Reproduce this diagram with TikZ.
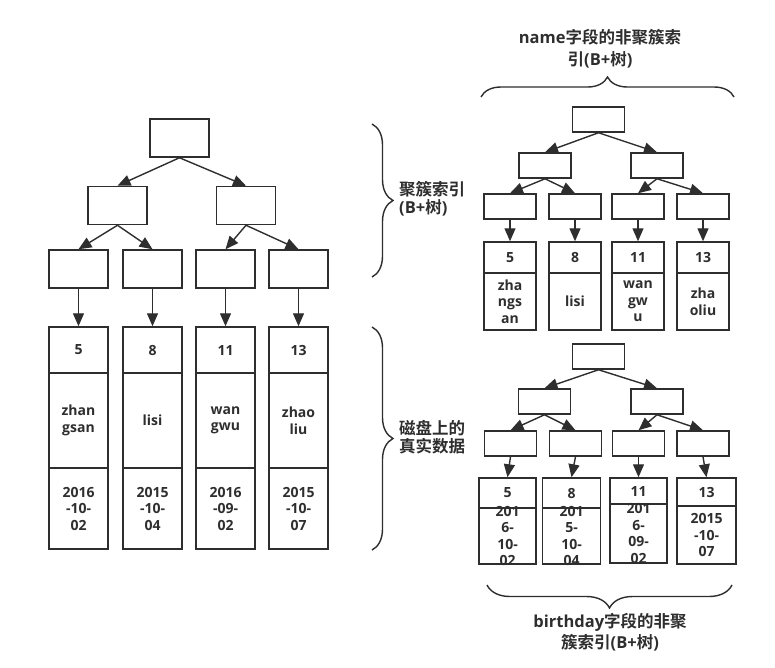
\documentclass[tikz,border=0pt]{standalone}
\usepackage{fontspec}
\setmainfont{Open Sans}[BoldFont={Open Sans Bold}]
\newfontfamily\cjk{Noto Sans CJK SC}[BoldFont={Noto Sans CJK SC Bold}]
\usetikzlibrary{arrows.meta,decorations.pathreplacing}
\definecolor{ink}{HTML}{2E2E2E}

\tikzset{
  box/.style={draw=ink, line width=1.5pt, inner sep=0pt, text=ink, align=center,
    font=\bfseries\fontsize{14}{16.5}\selectfont},
  big/.style={box, minimum width=59pt, minimum height=38pt},
  small/.style={box, minimum width=52pt, minimum height=25pt},
  val/.style={inner sep=0pt, text=ink, align=center, font=\bfseries\fontsize{14}{16.5}\selectfont},
  ptr/.style={draw=ink, line width=1.4pt, -{Triangle[length=13pt,width=11pt]}},
  brc/.style={draw=ink, line width=1.4pt, decorate},
  note/.style={inner sep=0pt, text=ink, font=\bfseries\fontsize{16.5}{22}\selectfont}
}

\begin{document}
\begin{tikzpicture}[x=1pt, y=-1pt]
\useasboundingbox (0,0) rectangle (775,667);

% clustered index (left)
\node[big] (c0) at (179.5,138){};
\node[big] (c1) at (117.5,205.5){};
\node[big] (c2) at (246,205.5){};
\node[big] (c3) at (78.5,269){};
\node[big] (c4) at (152.5,269){};
\node[big] (c5) at (225.5,269){};
\node[big] (c6) at (298.5,269){};
\draw[ptr] (c0.south) -- (c1.north);
\draw[ptr] (c0.south) -- (c2.north);
\draw[ptr] (c1.south) -- (c3.north);
\draw[ptr] (c1.south) -- (c4.north);
\draw[ptr] (c2.south) -- (c5.north);
\draw[ptr] (c2.south) -- (c6.north);

% rows on disk
\node[box, minimum width=59pt, minimum height=46pt] (k1) at (78.5,350){5};
\node[box, minimum width=59pt, minimum height=95pt] (n1) at (78.5,420.5){zhan\\gsan};
\node[box, minimum width=59pt, minimum height=81pt] (t1) at (78.5,508.5){2016\\-10-\\02};
\node[box, minimum width=59pt, minimum height=46pt] (k2) at (152.5,350){8};
\node[box, minimum width=59pt, minimum height=95pt] (n2) at (152.5,420.5){lisi};
\node[box, minimum width=59pt, minimum height=81pt] (t2) at (152.5,508.5){2015\\-10-\\04};
\node[box, minimum width=59pt, minimum height=46pt] (k3) at (225.5,350){11};
\node[box, minimum width=59pt, minimum height=95pt] (n3) at (225.5,420.5){wan\\gwu};
\node[box, minimum width=59pt, minimum height=81pt] (t3) at (225.5,508.5){2016\\-09-\\02};
\node[box, minimum width=59pt, minimum height=46pt] (k4) at (298.5,350){13};
\node[box, minimum width=59pt, minimum height=95pt] (n4) at (298.5,420.5){zhao\\liu};
\node[box, minimum width=59pt, minimum height=81pt] (t4) at (298.5,508.5){2015\\-10-\\07};
\draw[ptr] (c3.south) -- (k1.north);
\draw[ptr] (c4.south) -- (k2.north);
\draw[ptr] (c5.south) -- (k3.north);
\draw[ptr] (c6.south) -- (k4.north);

% name index (top right)
\node[small] (a0) at (598.5,119.5){};
\node[small] (a1) at (545,165.5){};
\node[small] (a2) at (657,165.5){};
\node[small] (a3) at (510,206.5){};
\node[small] (a4) at (575,206.5){};
\node[small] (a5) at (638,206.5){};
\node[small] (a6) at (703,206.5){};
\draw[ptr] (a0.south) -- (a1.north);
\draw[ptr] (a0.south) -- (a2.north);
\draw[ptr] (a1.south) -- (a3.north);
\draw[ptr] (a1.south) -- (a4.north);
\draw[ptr] (a2.south) -- (a5.north);
\draw[ptr] (a2.south) -- (a6.north);
\node[box, minimum width=52pt, minimum height=31pt] (ak1) at (510,257.5){5};
\node[box, minimum width=52pt, minimum height=57pt] (an1) at (510,301.5){zha\\ngs\\an};
\node[box, minimum width=52pt, minimum height=31pt] (ak2) at (575,257.5){8};
\node[box, minimum width=52pt, minimum height=57pt] (an2) at (575,301.5){lisi};
\node[box, minimum width=52pt, minimum height=31pt] (ak3) at (638,257.5){11};
\node[box, minimum width=52pt, minimum height=57pt] (an3) at (638,301.5){wan\\gw\\u};
\node[box, minimum width=52pt, minimum height=31pt] (ak4) at (703,257.5){13};
\node[box, minimum width=52pt, minimum height=57pt] (an4) at (703,301.5){zha\\oliu};
\draw[ptr] (a3.south) -- (ak1.north);
\draw[ptr] (a4.south) -- (ak2.north);
\draw[ptr] (a5.south) -- (ak3.north);
\draw[ptr] (a6.south) -- (ak4.north);

% birthday index (bottom right)
\node[small] (b0) at (598.5,356.5){};
\node[small] (b1) at (544.5,401.5){};
\node[small] (b2) at (657,401.5){};
\node[small] (b3) at (510.5,443.5){};
\node[small] (b4) at (575.5,443.5){};
\node[small] (b5) at (638.5,443.5){};
\node[small] (b6) at (703,443.5){};
\draw[ptr] (b0.south) -- (b1.north);
\draw[ptr] (b0.south) -- (b2.north);
\draw[ptr] (b1.south) -- (b3.north);
\draw[ptr] (b1.south) -- (b4.north);
\draw[ptr] (b2.south) -- (b5.north);
\draw[ptr] (b2.south) -- (b6.north);
\node[box, minimum width=57pt, minimum height=30pt] (bk1) at (507.5,493){5};
\node[box, minimum width=57pt, minimum height=56pt] (bd1) at (507.5,536){};
\node[val] (bt1) at (bd1){201\\6-\\10-\\02};
\node[box, minimum width=58pt, minimum height=30pt] (bk2) at (571.5,493){8};
\node[box, minimum width=58pt, minimum height=56pt] (bd2) at (571.5,536){};
\node[val] (bt2) at (bd2){201\\5-\\10-\\04};
\node[box, minimum width=57pt, minimum height=26pt] (bk3) at (638.5,491){11};
\node[box, minimum width=57pt, minimum height=59pt] (bd3) at (638.5,533.5){};
\node[val] (bt3) at (bd3){201\\6-\\09-\\02};
\node[box, minimum width=59pt, minimum height=28pt] (bk4) at (706.5,492){13};
\node[box, minimum width=59pt, minimum height=58pt] (bd4) at (706.5,535){2015\\-10-\\07};
\draw[ptr] (b3.south) -- (bk1.north);
\draw[ptr] (b4.south) -- (bk2.north);
\draw[ptr] (b5.south) -- (bk3.north);
\draw[ptr] (b6.south) -- (bk4.north);

% braces and notes
\coordinate (p1) at (481,97);
\coordinate (p2) at (734,97);
\draw[brc, decoration={brace, amplitude=20pt}] (p1) -- (p2);
\node[note, align=center] (nameidx) at (600,49){name{\cjk 字段的非聚簇索}\\{\cjk 引}(B+{\cjk 树})};

\coordinate (q1) at (372,124);
\coordinate (q2) at (372,277);
\draw[brc, decoration={brace, amplitude=21pt}] (q1) -- (q2);
\node[note, align=left, anchor=west, font=\bfseries\fontsize{16.5}{18}\selectfont] (clidx) at (399,199){{\cjk 聚簇索引}\\(B+{\cjk 树})};

\coordinate (r1) at (372,327);
\coordinate (r2) at (372,550);
\draw[brc, decoration={brace, amplitude=21pt}] (r1) -- (r2);
\node[note, align=left, anchor=west, font=\bfseries\fontsize{16.5}{17.5}\selectfont] (disk) at (399,437){{\cjk 磁盘上的}\\{\cjk 真实数据}};

\coordinate (s1) at (732,585);
\coordinate (s2) at (487,585);
\draw[brc, decoration={brace, amplitude=23pt}] (s1) -- (s2);
\node[note, align=center, font=\bfseries\fontsize{16.5}{21}\selectfont] (bdidx) at (610,632.5){birthday{\cjk 字段的非聚}\\{\cjk 簇索引}(B+{\cjk 树})};

\end{tikzpicture}
\end{document}
